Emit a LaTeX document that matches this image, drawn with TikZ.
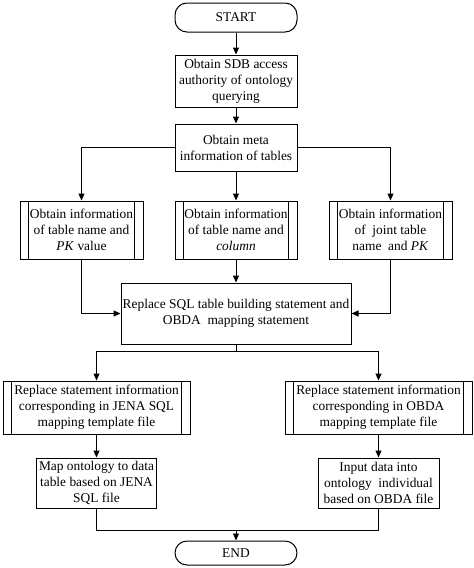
\documentclass[tikz,border=0pt]{standalone}
\usepackage{fontspec}
\setmainfont{Liberation Serif}
\usepackage{tikz}
\usetikzlibrary{arrows.meta}

\tikzset{
  box/.style={draw, line width=1pt, align=center, inner sep=0pt,
    font=\fontsize{13.4}{16}\selectfont},
  term/.style={box, rounded corners=12pt},
  subproc/.style={box, path picture={
      \draw[line width=1pt] ([xshift=8.5pt]path picture bounding box.north west) -- ([xshift=8.5pt]path picture bounding box.south west);
      \draw[line width=1pt] ([xshift=-8.5pt]path picture bounding box.north east) -- ([xshift=-8.5pt]path picture bounding box.south east);}},
  line/.style={draw, line width=1pt},
  arr/.style={line, -{Triangle[length=7pt,width=6pt]}}
}

\begin{document}
\begin{tikzpicture}[x=1pt,y=-1pt]
  \useasboundingbox (0,0) rectangle (474,568);
  % nodes
  \node[term, minimum width=122pt, minimum height=29pt] (start) at (236,17.5) {START};
  \node[box, minimum width=122pt, minimum height=52pt] (sdb) at (236,81) {Obtain SDB access\\authority of ontology\\querying};
  \node[box, minimum width=122pt, minimum height=47pt] (meta) at (236,147.5) {Obtain meta\\information of tables};
  \node[subproc, minimum width=123pt, minimum height=58pt] (pk) at (81.5,230) {Obtain information\\of table name and\\\textit{PK} value};
  \node[subproc, minimum width=122pt, minimum height=58pt] (col) at (236,230) {Obtain information\\of table name and\\\textit{column}};
  \node[subproc, minimum width=123pt, minimum height=58pt] (joint) at (390.5,230) {Obtain information\\of~ joint table\\name~ and \textit{PK}};
  \node[box, minimum width=230pt, minimum height=61pt] (repl) at (236,313.5) {Replace SQL table building statement and\\OBDA~ mapping statement};
  \node[subproc, minimum width=187pt, minimum height=53pt] (jena) at (96.5,407.5) {Replace statement information\\corresponding in JENA SQL\\mapping template file};
  \node[subproc, minimum width=187pt, minimum height=53pt] (obda) at (378.5,407.5) {Replace statement information\\corresponding in OBDA\\mapping template file};
  \node[box, minimum width=120pt, minimum height=50pt] (map) at (96.5,483) {Map ontology to data\\table based on JENA\\SQL file};
  \node[box, minimum width=121pt, minimum height=50pt] (input) at (378.5,483) {Input data into\\ontology~ individual\\based on OBDA file};
  \node[term, minimum width=122pt, minimum height=24pt] (end) at (236,553) {END};
  \coordinate (split) at (236,351);
  \coordinate (join) at (236,530);
  % connectors
  \draw[arr] (start) -- (sdb);
  \draw[arr] (sdb) -- (meta);
  \draw[arr] (meta) -- (col);
  \draw[arr] (meta.west) -| (pk.north);
  \draw[arr] (meta.east) -| (joint.north);
  \draw[arr] (col) -- (repl);
  \draw[arr] (pk.south) |- (repl.west);
  \draw[arr] (joint.south) |- (repl.east);
  \draw[line] (repl.south) -- (split);
  \draw[arr] (split) -| (jena.north);
  \draw[arr] (split) -| (obda.north);
  \draw[arr] (jena) -- (map);
  \draw[arr] (obda) -- (input);
  \draw[line] (map.south) |- (join);
  \draw[line] (input.south) |- (join);
  \draw[arr] (join) -- (end);
\end{tikzpicture}
\end{document}
